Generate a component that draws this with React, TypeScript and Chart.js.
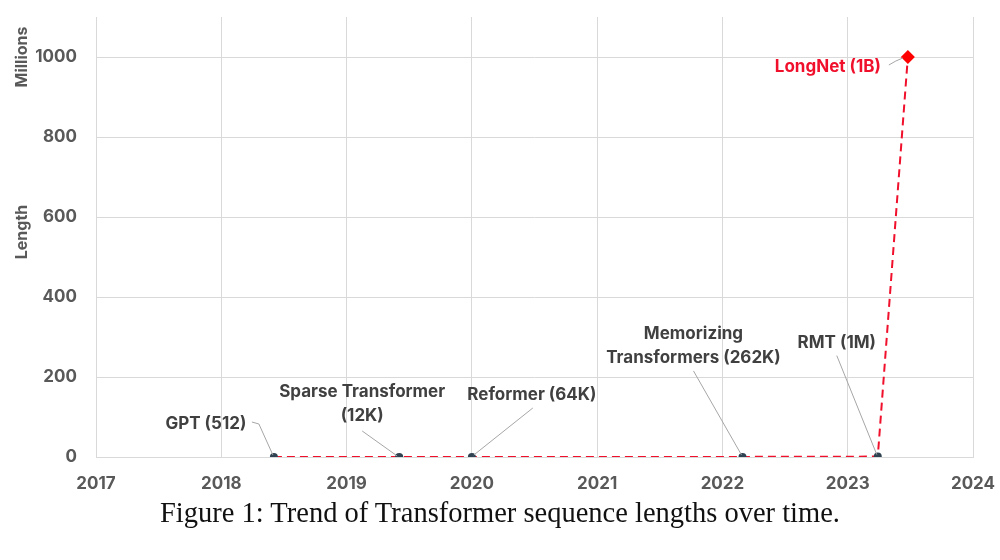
import { useEffect, useRef } from "react";
import { Chart, registerables } from "chart.js";

Chart.register(...registerables);

// data
const models = ["GPT (512)", "Sparse Transformer (12K)", "Reformer (64K)", "Memorizing Transformers (262K)", "RMT (1M)", "LongNet (1B)"];
const years = [2018.42, 2019.42, 2020.0, 2022.16, 2023.24, 2023.48];
const lengthsMillions = [0.000512, 0.012, 0.064, 0.262, 1, 1000];
const yTicks = [0, 200, 400, 600, 800, 1000];

// label layout (pixel offsets from the point)
const labelLines = [["GPT (512)"], ["Sparse Transformer", "(12K)"], ["Reformer (64K)"], ["Memorizing", "Transformers (262K)"], ["RMT (1M)"], ["LongNet (1B)"]];
const labelOffsets = [
	[-68, -33],
	[-37, -65],
	[60, -62],
	[-49, -123],
	[-41, -114],
	[-80, 10],
];
const leaderPaths = [
	[[-22, -35], [-15, -33], [-1, -2]],
	[[-37, -26], [-2, -1]],
	[[61, -49], [2, -2]],
	[[-49, -86], [-1, -2]],
	[[-41, -101], [-1, -2]],
	[[-19, 8], [-12, 4], [-5, 1]],
];

const FONT = "Inter, 'Open Sans', sans-serif";
const TICK_COLOR = "#595959";
const TEXT_COLOR = "#404040";
const RED = "#f0102c";

const annotations = {
	id: "annotations",
	afterDatasetsDraw(chart: Chart) {
		const { ctx } = chart;
		const x = chart.scales.x;
		const y = chart.scales.y;
		ctx.save();
		models.forEach((_, i) => {
			const px = x.getPixelForValue(years[i]);
			const py = y.getPixelForValue(lengthsMillions[i]);
			ctx.strokeStyle = "#a6a6a6";
			ctx.lineWidth = 1;
			ctx.beginPath();
			leaderPaths[i].forEach(([dx, dy], k) => {
				if (k === 0) ctx.moveTo(px + dx, py + dy);
				else ctx.lineTo(px + dx, py + dy);
			});
			ctx.stroke();

			ctx.fillStyle = i === models.length - 1 ? RED : TEXT_COLOR;
			ctx.font = `700 17px ${FONT}`;
			ctx.textAlign = "center";
			ctx.textBaseline = "middle";
			const [ox, oy] = labelOffsets[i];
			labelLines[i].forEach((line, k) => {
				ctx.fillText(line, px + ox, py + oy + k * 24);
			});
		});

		// axis titles
		ctx.fillStyle = TICK_COLOR;
		ctx.font = `700 16px ${FONT}`;
		ctx.textAlign = "center";
		ctx.textBaseline = "middle";
		const drawRotated = (text: string, cx: number, cy: number) => {
			ctx.save();
			ctx.translate(cx, cy);
			ctx.rotate(-Math.PI / 2);
			ctx.fillText(text, 0, 0);
			ctx.restore();
		};
		drawRotated("Length", 22, (chart.chartArea.top + chart.chartArea.bottom) / 2 - 5);
		drawRotated("Millions", 22, 57);
		ctx.restore();
	},
};

export default function App() {
	const canvasRef = useRef<HTMLCanvasElement | null>(null);

	useEffect(() => {
		if (!canvasRef.current) return;
		const lastIdx = models.length - 1;
		const chart = new Chart(canvasRef.current, {
			type: "scatter",
			data: {
				datasets: [
					{
						data: years.map((yr, i) => ({ x: yr, y: lengthsMillions[i] })),
						showLine: true,
						borderColor: RED,
						borderWidth: 2,
						borderDash: [8, 5],
						pointStyle: models.map((_, i) => (i === lastIdx ? "rectRot" : "circle")),
						pointRadius: models.map((_, i) => (i === lastIdx ? 7 : 4)),
						pointBackgroundColor: models.map((_, i) => (i === lastIdx ? "#ff0000" : "#2f4252")),
						pointBorderColor: models.map((_, i) => (i === lastIdx ? "#ff0000" : "#2f4252")),
						pointBorderWidth: 0,
					},
				],
			},
			options: {
				animation: false,
				responsive: false,
				layout: { padding: { top: 17, right: 27, left: 0, bottom: 0 } },
				plugins: { legend: { display: false }, tooltip: { enabled: false } },
				scales: {
					x: {
						type: "linear",
						min: 2017,
						max: 2024,
						ticks: {
							stepSize: 1,
							padding: 17,
							color: TICK_COLOR,
							font: { family: FONT, size: 17, weight: 700 },
							callback: (v) => String(v),
						},
						grid: { color: "#d9d9d9", drawTicks: false },
						border: { color: "#d9d9d9" },
						afterFit: (s) => {
							s.height = 43;
							s.paddingLeft = 0;
							s.paddingRight = 0;
						},
					},
					y: {
						min: 0,
						max: 1100,
						ticks: {
							padding: 19,
							color: TICK_COLOR,
							font: { family: FONT, size: 17, weight: 700 },
							callback: (v) => String(v),
						},
						afterBuildTicks: (s) => {
							s.ticks = yTicks.map((v) => ({ value: v }));
						},
						grid: { color: "#d9d9d9", drawTicks: false },
						border: { display: false },
						afterFit: (s) => {
							s.width = 96;
							s.paddingTop = 0;
							s.paddingBottom = 0;
						},
					},
				},
			},
			plugins: [annotations],
		});
		return () => chart.destroy();
	}, []);

	return (
		<div style={{ position: "fixed", left: 0, top: 0, width: 1000, height: 560, background: "#fff" }}>
			<canvas ref={canvasRef} width={1000} height={500} style={{ display: "block" }} />
			<div
				style={{
					position: "absolute",
					top: 497,
					left: 0,
					width: 1000,
					textAlign: "center",
					fontFamily: "'Liberation Serif', 'Times New Roman', serif",
					fontSize: 28.5,
					lineHeight: "32px",
					color: "#111",
				}}
			>
				Figure 1: Trend of Transformer sequence lengths over time.
			</div>
		</div>
	);
}
